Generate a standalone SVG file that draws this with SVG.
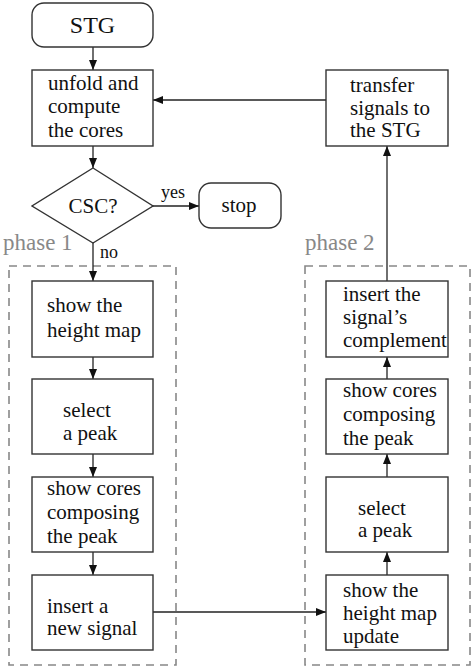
<svg xmlns="http://www.w3.org/2000/svg" width="474" height="668" viewBox="0 0 474 668">
<style>
.box{fill:#fff;stroke:#333;stroke-width:1.4}
.t{font-family:"Liberation Serif","Times New Roman",serif;font-size:21px;fill:#111}
.s{font-family:"Liberation Serif","Times New Roman",serif;font-size:18px;fill:#111}
.ph{font-family:"Liberation Serif","Times New Roman",serif;font-size:23px;fill:#888}
.dash{fill:none;stroke:#888;stroke-width:1.6;stroke-dasharray:8 6}
.c{fill:none;stroke:#222;stroke-width:1.3}
</style>
<defs>
<marker id="ah" viewBox="0 0 10 8" refX="10" refY="4" markerWidth="10" markerHeight="8" markerUnits="userSpaceOnUse" orient="auto">
<path d="M0,0 L10,4 L0,8 Z" fill="#111"/>
</marker>
</defs>
<rect width="474" height="668" fill="#fff"/>
<g id="phase1">
<rect class="dash" x="9" y="266" width="167" height="399"/>
<text class="ph" x="3" y="250">phase 1</text>
</g>
<g id="phase2">
<rect class="dash" x="305" y="266" width="165" height="399"/>
<text class="ph" x="305" y="250">phase 2</text>
</g>
<g id="connectors">
<line class="c" x1="93" y1="47" x2="93" y2="70" marker-end="url(#ah)"/>
<line class="c" x1="93" y1="146" x2="93" y2="168" marker-end="url(#ah)"/>
<line class="c" x1="153" y1="206" x2="199" y2="206" marker-end="url(#ah)"/>
<line class="c" x1="93" y1="243" x2="93" y2="281" marker-end="url(#ah)"/>
<line class="c" x1="93" y1="357" x2="93" y2="379" marker-end="url(#ah)"/>
<line class="c" x1="93" y1="454" x2="93" y2="477" marker-end="url(#ah)"/>
<line class="c" x1="93" y1="552" x2="93" y2="575" marker-end="url(#ah)"/>
<line class="c" x1="153" y1="612" x2="326" y2="612" marker-end="url(#ah)"/>
<line class="c" x1="387" y1="575" x2="387" y2="552" marker-end="url(#ah)"/>
<line class="c" x1="387" y1="477" x2="387" y2="454" marker-end="url(#ah)"/>
<line class="c" x1="387" y1="379" x2="387" y2="357" marker-end="url(#ah)"/>
<line class="c" x1="387" y1="281" x2="387" y2="146" marker-end="url(#ah)"/>
<line class="c" x1="326" y1="100" x2="153" y2="100" marker-end="url(#ah)"/>
<text class="s" x="161" y="198">yes</text>
<text class="s" x="100" y="258">no</text>
</g>
<g id="stg">
<rect class="box" x="32" y="3" width="121" height="44" rx="12"/>
<text class="t" x="92.5" y="33" text-anchor="middle" style="font-size:24px">STG</text>
</g>
<g id="unfold">
<rect class="box" x="32" y="70" width="121" height="76"/>
<text class="t" x="48" y="90">unfold and</text>
<text class="t" x="48" y="113">compute</text>
<text class="t" x="48" y="137">the cores</text>
</g>
<g id="csc">
<polygon class="box" points="93,168 153,206 93,243 32,206"/>
<text class="t" x="93" y="213" text-anchor="middle">CSC?</text>
</g>
<g id="stop">
<rect class="box" x="199" y="183" width="82" height="45" rx="12"/>
<text class="t" x="239" y="212" text-anchor="middle">stop</text>
</g>
<g id="transfer">
<rect class="box" x="326" y="70" width="122" height="76"/>
<text class="t" x="350" y="92">transfer</text>
<text class="t" x="350" y="115">signals to</text>
<text class="t" x="350" y="137">the STG</text>
</g>
<g id="l-height">
<rect class="box" x="32" y="281" width="121" height="76"/>
<text class="t" x="47" y="312">show the</text>
<text class="t" x="47" y="337">height map</text>
</g>
<g id="l-select">
<rect class="box" x="32" y="379" width="121" height="75"/>
<text class="t" x="63" y="417">select</text>
<text class="t" x="63" y="440">a peak</text>
</g>
<g id="l-cores">
<rect class="box" x="32" y="477" width="121" height="75"/>
<text class="t" x="47" y="495">show cores</text>
<text class="t" x="47" y="519">composing</text>
<text class="t" x="47" y="543">the peak</text>
</g>
<g id="l-insert">
<rect class="box" x="32" y="575" width="121" height="75"/>
<text class="t" x="47" y="613">insert a</text>
<text class="t" x="47" y="635">new signal</text>
</g>
<g id="r-complement">
<rect class="box" x="326" y="281" width="122" height="76"/>
<text class="t" x="343" y="301">insert the</text>
<text class="t" x="343" y="324">signal’s</text>
<text class="t" x="343" y="347">complement</text>
</g>
<g id="r-cores">
<rect class="box" x="326" y="379" width="122" height="75"/>
<text class="t" x="343" y="397">show cores</text>
<text class="t" x="343" y="421">composing</text>
<text class="t" x="343" y="445">the peak</text>
</g>
<g id="r-select">
<rect class="box" x="326" y="477" width="122" height="75"/>
<text class="t" x="358" y="515">select</text>
<text class="t" x="358" y="537">a peak</text>
</g>
<g id="r-height">
<rect class="box" x="326" y="575" width="122" height="75"/>
<text class="t" x="343" y="597">show the</text>
<text class="t" x="343" y="620">height map</text>
<text class="t" x="343" y="643">update</text>
</g>
</svg>
